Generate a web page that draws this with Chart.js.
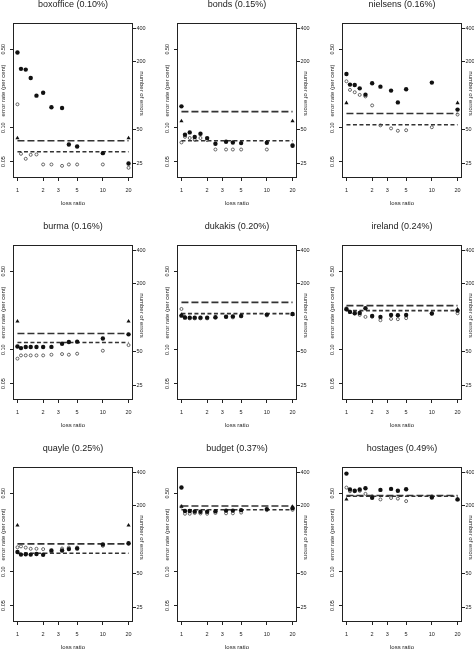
<!DOCTYPE html>
<html><head><meta charset="utf-8">
<script src="https://cdn.jsdelivr.net/npm/chart.js@4/dist/chart.umd.min.js"></script>
<style>
html,body{margin:0;padding:0;background:#fff;width:474px;height:649px;overflow:hidden;position:relative}
canvas{position:absolute}
</style></head><body>
<script>
// ---------- data ----------
const LOSS_RATIO = [1, 1.1, 1.25, 1.43, 1.67, 2, 2.5, 3.33, 4, 5, 10, 20];
const X_TICKS = [1, 2, 3, 5, 10, 20];
const LEFT_TICKS = [0.05, 0.10, 0.50];
const LEFT_TICK_LABELS = ['0.05', '0.10', '0.50'];
const RIGHT_TICKS = [25, 50, 200, 400];
const TITLES = ['boxoffice (0.10%)', 'bonds (0.15%)', 'nielsens (0.16%)',
                'burma (0.16%)', 'dukakis (0.20%)', 'ireland (0.24%)',
                'quayle (0.25%)', 'budget (0.37%)', 'hostages (0.49%)'];
const X_LABEL = 'loss ratio';
const LEFT_LABEL = 'error rate (per cent)';
const RIGHT_LABEL = 'number of errors';

// filled circles: error rate (per cent) at each loss ratio
const filledBoxoffice = [0.467, 0.334, 0.329, 0.277, 0.193, 0.205, 0.152, 0.150, 0.0710, 0.0681, 0.0594, 0.0481];
const filledBonds     = [0.155, 0.0866, 0.0909, 0.0826, 0.0884, 0.0809, 0.0720, 0.075, 0.074, 0.073, 0.0735, 0.0691];
const filledNielsens  = [0.301, 0.242, 0.240, 0.224, 0.197, 0.249, 0.232, 0.214, 0.168, 0.220, 0.252, 0.145];
const filledBurma     = [0.107, 0.1034, 0.1056, 0.1056, 0.1056, 0.1056, 0.106, 0.113, 0.117, 0.118, 0.126, 0.137];
const filledDukakis   = [0.201, 0.193, 0.193, 0.193, 0.193, 0.193, 0.195, 0.197, 0.198, 0.200, 0.2055, 0.208];
const filledIreland   = [0.229, 0.217, 0.211, 0.212, 0.234, 0.200, 0.196, 0.204, 0.203, 0.204, 0.210, 0.223];
const filledQuayle    = [0.150, 0.142, 0.143, 0.142, 0.144, 0.1414, 0.1545, 0.1545, 0.159, 0.161, 0.1745, 0.179];
const filledBudget    = [0.561, 0.3466, 0.3466, 0.344, 0.342, 0.342, 0.345, 0.350, 0.350, 0.353, 0.361, 0.368];
const filledHostages  = [0.747, 0.539, 0.525, 0.539, 0.554, 0.455, 0.535, 0.546, 0.525, 0.542, 0.458, 0.440];

// open circles
const openBoxoffice = [0.1616, 0.0586, 0.0529, 0.0574, 0.0578, 0.0471, 0.0471, 0.0458, 0.0471, 0.0471, 0.0471, 0.044];
const openBonds     = [0.074, 0.083, 0.081, 0.078, 0.081, 0.0776, 0.064, 0.064, 0.064, 0.064, 0.064, 0.0705];
const openNielsens  = [0.259, 0.217, 0.207, 0.196, 0.190, 0.158, 0.105, 0.0986, 0.094, 0.095, 0.101, 0.131];
const openBurma     = [0.0833, 0.089, 0.089, 0.089, 0.089, 0.089, 0.0903, 0.0915, 0.0903, 0.0922, 0.098, 0.110];
const openDukakis   = [0.2306, 0.196, 0.190, 0.190, 0.190, 0.190, 0.192, 0.195, 0.194, 0.198, 0.202, 0.207];
const openIreland   = [0.234, 0.217, 0.211, 0.204, 0.196, 0.196, 0.183, 0.188, 0.187, 0.191, 0.210, 0.211];
const openQuayle    = [0.165, 0.168, 0.164, 0.160, 0.160, 0.159, 0.150, 0.161, 0.164, 0.164, 0.170, 0.177];
const openBudget    = [0.381, 0.328, 0.328, 0.333, 0.330, 0.328, 0.333, 0.331, 0.331, 0.336, 0.353, 0.355];
const openHostages  = [0.561, 0.520, 0.520, 0.524, 0.493, 0.468, 0.440, 0.453, 0.447, 0.425, 0.468, 0.440];

// triangles (at loss ratio 1 and 20) and the two dashed reference levels, one value per panel
const TRIANGLE_RATE   = [0.0809, 0.1147, 0.166, 0.179, 0.205, 0.229, 0.259, 0.380, 0.440];
const LONG_DASH_RATE  = [0.0766, 0.139, 0.134, 0.1395, 0.264, 0.247, 0.177, 0.384, 0.477];
const SHORT_DASH_RATE = [0.0611, 0.0766, 0.1064, 0.116, 0.2097, 0.223, 0.146, 0.356, 0.470];

const FILLED = [filledBoxoffice, filledBonds, filledNielsens, filledBurma, filledDukakis, filledIreland, filledQuayle, filledBudget, filledHostages];
const OPEN = [openBoxoffice, openBonds, openNielsens, openBurma, openDukakis, openIreland, openQuayle, openBudget, openHostages];

// ---------- layout ----------
const COL_LEFT = [13, 177, 342];
const ROW_TOP = [23, 245, 467];
const BOX_W = 120, BOX_H = 155;
const LW = 22, RW = 22, TH = 30, BH = 30;
const FONT = "'Liberation Sans', Arial, Helvetica, sans-serif";
const INK = '#222';

const boxPlugin = {
  id: 'plotBox',
  beforeDatasetsDraw(chart) {
    const {ctx, chartArea: a} = chart;
    ctx.save();
    ctx.strokeStyle = INK;
    ctx.lineWidth = 1;
    ctx.strokeRect(Math.round(a.left) + 0.5, Math.round(a.top) + 0.5,
                   Math.round(a.right - a.left) - 1, Math.round(a.bottom - a.top) - 1);
    ctx.restore();
  }
};

// side axis titles share the tick-label column, as in the original figure
const sideTitlePlugin = {
  id: 'sideTitles',
  afterDraw(chart) {
    const {ctx, chartArea: a} = chart;
    ctx.save();
    ctx.fillStyle = INK;
    ctx.font = '6px ' + FONT;
    ctx.textAlign = 'center';
    ctx.textBaseline = 'middle';
    ctx.save();
    ctx.translate(a.left - 10, a.top + (a.bottom - a.top) * 0.435);
    ctx.rotate(-Math.PI / 2);
    ctx.fillText(LEFT_LABEL, 0, 0);
    ctx.restore();
    ctx.save();
    ctx.translate(a.right + 8.5, a.top + (a.bottom - a.top) * 0.455);
    ctx.rotate(Math.PI / 2);
    ctx.fillText(RIGHT_LABEL, 0, 0);
    ctx.restore();
    ctx.restore();
  }
};

function pts(xs, ys) { return xs.map((x, i) => ({x: x, y: ys[i]})); }

for (let p = 0; p < 9; p++) {
  const r = Math.floor(p / 3), c = p % 3;
  const cv = document.createElement('canvas');
  cv.width = LW + BOX_W + RW;
  cv.height = TH + BOX_H + BH;
  cv.style.left = (COL_LEFT[c] - LW) + 'px';
  cv.style.top = (ROW_TOP[r] - TH) + 'px';
  document.body.appendChild(cv);

  const tri = TRIANGLE_RATE[p], lo = LONG_DASH_RATE[p], sh = SHORT_DASH_RATE[p];
  new Chart(cv, {
    type: 'scatter',
    data: {
      datasets: [
        {data: pts(LOSS_RATIO, FILLED[p]), pointStyle: 'circle', pointRadius: 2.2,
         backgroundColor: '#111', borderColor: '#111', borderWidth: 0, yAxisID: 'y'},
        {data: pts([1, 20], [tri, tri]), pointStyle: 'triangle', pointRadius: 2.4,
         backgroundColor: '#111', borderColor: '#111', borderWidth: 0, yAxisID: 'y'},
        {data: pts(LOSS_RATIO, OPEN[p]), pointStyle: 'circle', pointRadius: 1.5,
         backgroundColor: 'rgba(0,0,0,0)', borderColor: '#444', borderWidth: 0.8, yAxisID: 'y'},
        {data: pts([1, 20], [lo, lo]), showLine: true, pointRadius: 0, borderColor: '#333',
         borderWidth: 1.6, borderDash: [7, 3], yAxisID: 'y'},
        {data: pts([1, 20], [sh, sh]), showLine: true, pointRadius: 0, borderColor: '#333',
         borderWidth: 1.6, borderDash: [4, 2.5], yAxisID: 'y'}
      ]
    },
    options: {
      responsive: false, maintainAspectRatio: false, animation: false, devicePixelRatio: 1,
      events: [],
      layout: {padding: 0},
      plugins: {
        legend: {display: false}, tooltip: {enabled: false},
        title: {display: true, text: TITLES[p], color: INK,
                font: {family: FONT, size: 9, weight: 'normal', lineHeight: 1},
                padding: {top: TH - 9 - 13.5, bottom: 13.5}}
      },
      scales: {
        x: {
          type: 'logarithmic', position: 'bottom', min: 0.887, max: 22.55,
          afterBuildTicks: s => { s.ticks = X_TICKS.map(v => ({value: v})); },
          afterFit: s => { s.height = BH; },
          ticks: {autoSkip: false, maxRotation: 0, minRotation: 0, padding: 6, color: INK,
                  font: {family: FONT, size: 5.5}, callback: v => String(v)},
          grid: {display: true, drawOnChartArea: false, drawTicks: true, tickLength: 3, color: INK},
          border: {display: false},
          title: {display: true, text: X_LABEL, color: INK,
                  font: {family: FONT, size: 6, lineHeight: 1}, padding: {top: 0, bottom: 1.5}}
        },
        y: {
          type: 'logarithmic', position: 'left', min: 0.0357, max: 0.855,
          afterBuildTicks: s => { s.ticks = LEFT_TICKS.map(v => ({value: v})); },
          afterFit: s => { s.width = LW; },
          ticks: {autoSkip: false, minRotation: 90, maxRotation: 90, crossAlign: 'center',
                  padding: 1.5, color: INK, font: {family: FONT, size: 5.5},
                  callback: v => LEFT_TICK_LABELS[LEFT_TICKS.findIndex(t => Math.abs(t - v) < 1e-9)]},
          grid: {display: true, drawOnChartArea: false, drawTicks: true, tickLength: 3, color: INK},
          border: {display: false},
          title: {display: false}
        },
        y2: {
          type: 'logarithmic', position: 'right', min: 18.4, max: 445,
          afterBuildTicks: s => { s.ticks = RIGHT_TICKS.map(v => ({value: v})); },
          afterFit: s => { s.width = RW; },
          ticks: {autoSkip: false, padding: 0.5, color: INK, font: {family: FONT, size: 5.5},
                  callback: v => String(v)},
          grid: {display: true, drawOnChartArea: false, drawTicks: true, tickLength: 3, color: INK},
          border: {display: false},
          title: {display: false}
        }
      }
    },
    plugins: [boxPlugin, sideTitlePlugin]
  });
}
</script>
</body></html>
